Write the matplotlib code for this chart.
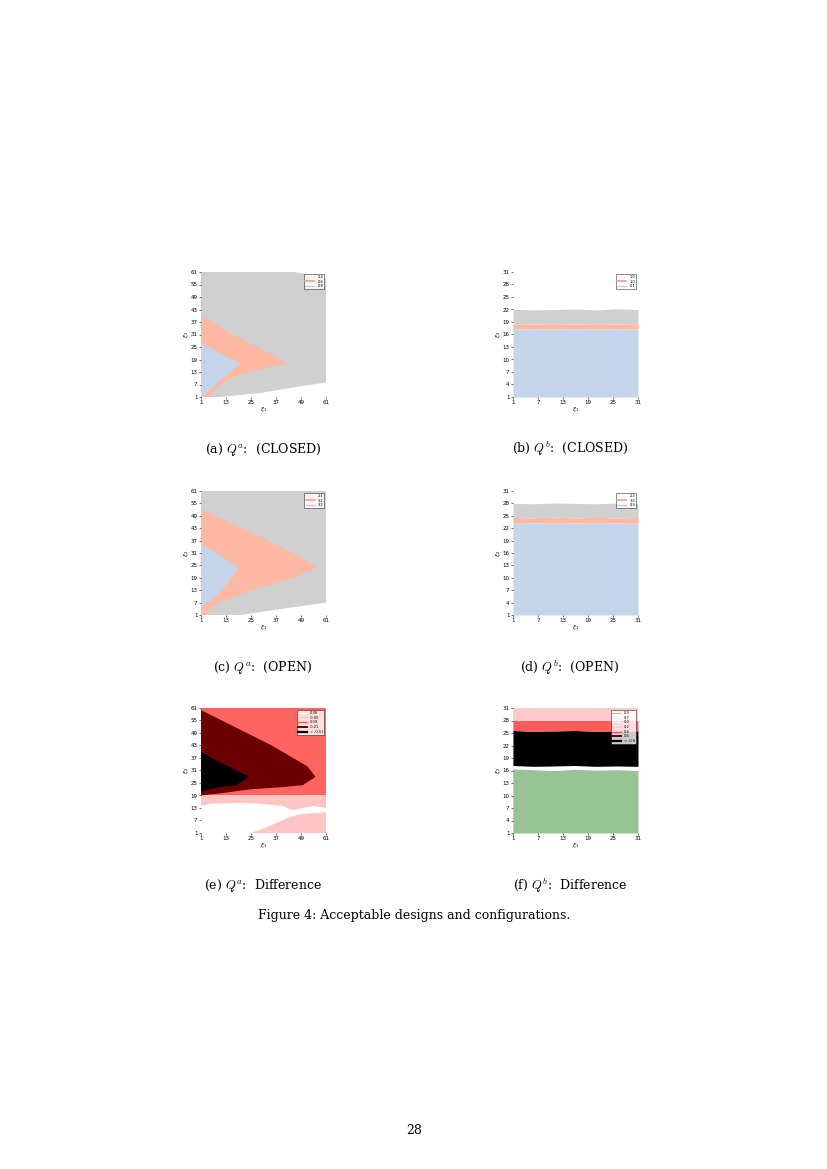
import numpy as np
import matplotlib.pyplot as plt
from matplotlib.lines import Line2D

# ---- colours ----
GRAY = "#d0d0d0"
PINK = "#ffb8a2"
BLUE = "#c4d5ea"

# ---- panel (a): Qa closed, region outlines (x, y) ----
a_gray = [(1, 1), (10, 1), (30, 3), (48, 6), (61, 8), (61, 58), (46, 61), (1, 61)]
a_pink = [(1, 1), (5, 1), (8, 5), (12, 8), (20, 12), (32, 15), (42, 17), (32, 23), (18, 30), (6, 37), (1, 40)]
a_blue = [(1, 1), (1, 27), (10, 22), (20, 17), (14, 12), (8, 7), (4, 3), (1, 1)]

# ---- panel (c): Qa open ----
c_gray = [(1, 1), (20, 1), (40, 4), (61, 7), (61, 61), (1, 61)]
c_pink = [(1, 1), (3, 1), (6, 5), (12, 8), (25, 13), (45, 19), (57, 24), (45, 31), (25, 41), (10, 48), (1, 52)]
c_blue = [(1, 5), (1, 35), (10, 30), (19, 24), (12, 14), (6, 8)]

# ---- panel (e): Qa difference ----
e_dark = [(1, 19), (10, 20), (25, 22), (40, 23), (50, 24), (56, 28), (52, 33), (35, 43), (15, 53), (1, 60)]
e_black = [(1, 21), (10, 23), (18, 24), (24, 28), (18, 31), (8, 36), (1, 40)]
e_light = [(1, 1), (61, 1), (61, 19), (1, 19)]
e_white = [(1, 1), (25, 1), (33, 4), (42, 8), (48, 10), (61, 11), (61, 13), (55, 14), (45, 12), (40, 14), (30, 15), (20, 15.5), (5, 15), (1, 14)]

# ---- panel (b)/(d): Qb horizontal bands (top of each band) ----
b_x = [1, 6, 11, 16, 21, 26, 31]
b_blue_top = [17.3, 17.4, 17.3, 17.4, 17.3, 17.4, 17.3]
b_pink_top = [18.6, 18.5, 18.6, 18.5, 18.6, 18.5, 18.6]
b_gray_top = [22.1, 21.9, 22.0, 22.1, 21.9, 22.2, 22.0]
d_blue_top = [23.2, 23.3, 23.2, 23.3, 23.2, 23.3, 23.2]
d_pink_top = [24.6, 24.5, 24.7, 24.5, 24.6, 24.5, 24.6]
d_gray_top = [28.0, 27.9, 28.1, 28.0, 27.9, 28.1, 28.0]

# ---- panel (f): Qb difference bands ----
f_green_top = [16.4, 16.2, 16.0, 16.3, 16.1, 16.2, 16.0]
f_white_top = [17.2, 17.0, 17.1, 17.2, 17.0, 17.1, 17.0]
f_black_top = [25.6, 25.4, 25.5, 25.6, 25.4, 25.5, 25.5]
f_red_top = [28.0, 28.0, 28.0, 28.0, 28.0, 28.0, 28.0]

ticks_61 = [1, 13, 25, 37, 49, 61]
yticks_61 = [1, 7, 13, 19, 25, 31, 37, 43, 49, 55, 61]
ticks_31 = [1, 7, 13, 19, 25, 31]
yticks_31 = [1, 4, 7, 10, 13, 16, 19, 22, 25, 28, 31]

leg_a = [("0.4", "#eeeeee", 0.6), ("0.6", "#ff9a80", 1.2), ("0.8", "#bbbbbb", 0.6)]
leg_e = [("0.38", "#ffffff", 0.6), ("-0.05", "#ffc0c0", 0.8), ("0.09", "#ff5555", 1.0),
         ("-0.21", "#6b0000", 1.4), ("< -0.51", "#000000", 1.6)]
leg_f = [("0.3", "#98c495", 0.6), ("0.7", "#ffffff", 0.6), ("0.0", "#ffffff", 0.6),
         ("0.2", "#ffcccc", 0.8), ("0.4", "#ff5555", 1.0), ("0.6", "#6b0000", 1.4), ("< -0.6", "#000000", 1.6)]

fig = plt.figure(figsize=(8.27, 11.69), dpi=100)
W, H = 827, 1169


def make_ax(x0, y0, x1, y1):
    return fig.add_axes([x0 / W, 1 - y1 / H, (x1 - x0) / W, (y1 - y0) / H])


def style(ax, n, xt, yt, legend):
    ax.set_xlim(1, n)
    ax.set_ylim(1, n)
    ax.set_xticks(xt)
    ax.set_yticks(yt)
    ax.tick_params(labelsize=4, length=1.5, width=0.4, pad=1)
    for s in ax.spines.values():
        s.set_visible(False)
    ax.set_xlabel(r"$\xi_1$", fontsize=4, labelpad=0)
    ax.set_ylabel(r"$\xi_2$", fontsize=4, labelpad=0)
    handles = [Line2D([], [], color=c, lw=lw) for _, c, lw in legend]
    lg = ax.legend(handles, [l for l, _, _ in legend], loc="upper right", fontsize=2.6,
                   handlelength=2.5, frameon=True, fancybox=False, borderpad=0.3,
                   labelspacing=0.2)
    lg.get_frame().set_edgecolor("black")
    lg.get_frame().set_linewidth(0.4)


def poly(ax, pts, color):
    xs, ys = zip(*pts)
    ax.fill(xs, ys, color=color, lw=0)


# (a)
ax = make_ax(201, 272, 326, 397)
poly(ax, a_gray, GRAY)
poly(ax, a_pink, PINK)
poly(ax, a_blue, BLUE)
style(ax, 61, ticks_61, yticks_61, leg_a)

# (b)
ax = make_ax(513, 272, 638, 397)
ax.fill_between(b_x, 1, b_blue_top, color=BLUE, lw=0)
ax.fill_between(b_x, b_blue_top, b_pink_top, color=PINK, lw=0)
ax.fill_between(b_x, b_pink_top, b_gray_top, color=GRAY, lw=0)
style(ax, 31, ticks_31, yticks_31, [("1.0", "#eeeeee", 0.6), ("1.0", "#ff9a80", 1.2), ("0.1", "#bbbbbb", 0.6)])

# (c)
ax = make_ax(201, 491, 326, 615)
poly(ax, c_gray, GRAY)
poly(ax, c_pink, PINK)
poly(ax, c_blue, BLUE)
style(ax, 61, ticks_61, yticks_61, [("2.1", "#eeeeee", 0.6), ("3.1", "#ff9a80", 1.2), ("3.2", "#bbbbbb", 0.6)])

# (d)
ax = make_ax(513, 491, 638, 615)
ax.fill_between(b_x, 1, d_blue_top, color=BLUE, lw=0)
ax.fill_between(b_x, d_blue_top, d_pink_top, color=PINK, lw=0)
ax.fill_between(b_x, d_pink_top, d_gray_top, color=GRAY, lw=0)
style(ax, 31, ticks_31, yticks_31, [("2.3", "#eeeeee", 0.6), ("3.0", "#ff9a80", 1.2), ("0.3", "#bbbbbb", 0.6)])

# (e)
ax = make_ax(201, 708, 326, 833)
ax.set_facecolor("#ff6461")
poly(ax, e_light, "#ffc4c4")
poly(ax, e_white, "white")
poly(ax, e_dark, "#6b0000")
poly(ax, e_black, "black")
style(ax, 61, ticks_61, yticks_61, leg_e)

# (f)
ax = make_ax(513, 708, 638, 833)
ax.set_facecolor("#ffcaca")
ax.fill_between(b_x, 1, f_green_top, color="#98c495", lw=0)
ax.fill_between(b_x, f_green_top, f_white_top, color="white", lw=0)
ax.fill_between(b_x, f_white_top, f_black_top, color="black", lw=0)
ax.fill_between(b_x, f_black_top, f_red_top, color="#ff5c5c", lw=0)
style(ax, 31, ticks_31, yticks_31, leg_f)

# captions
serif = "DejaVu Serif"
caps = [(263, 449, r"(a) $Q^a$:  (CLOSED)"), (570, 449, r"(b) $Q^b$:  (CLOSED)"),
        (263, 668, r"(c) $Q^a$:  (OPEN)"), (570, 668, r"(d) $Q^b$:  (OPEN)"),
        (263, 886, r"(e) $Q^a$:  Difference"), (570, 886, r"(f) $Q^b$:  Difference")]
plt.rcParams["mathtext.fontset"] = "cm"
for x, y, t in caps:
    fig.text(x / W, 1 - y / H, t, ha="center", va="center", fontsize=9, family=serif)
fig.text(414 / W, 1 - 916 / H, "Figure 4: Acceptable designs and configurations.",
         ha="center", va="center", fontsize=9, family=serif)
fig.text(414 / W, 1 - 1131 / H, "28", ha="center", va="center", fontsize=9, family=serif)

fig.savefig("out.png", dpi=100)
